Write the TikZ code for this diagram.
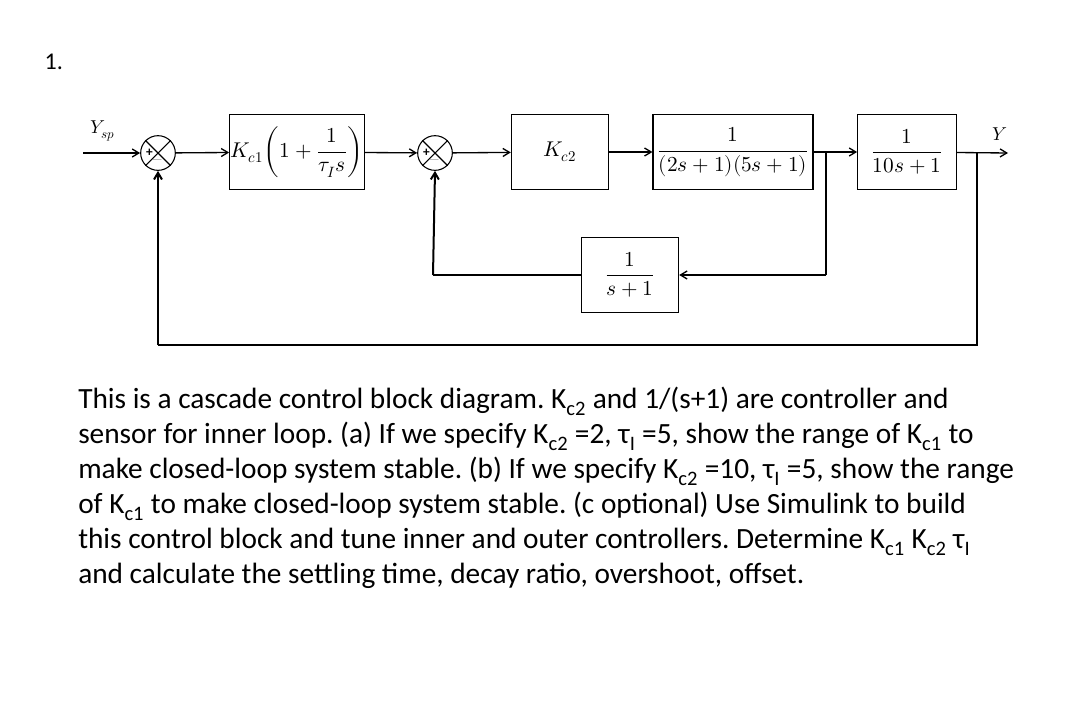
\documentclass[tikz,border=0pt]{standalone}
\usepackage{fontspec}
\setmainfont{Carlito}
\usepackage{unicode-math}
\setmathfont{Latin Modern Math}
\usetikzlibrary{arrows.meta}
\begin{document}
\frenchspacing
\begin{tikzpicture}[x=0.75pt,y=-0.75pt,
  blk/.style={draw,line width=0.8pt,minimum height=56pt,inner sep=0pt,font=\fontsize{16}{18}\selectfont},
  sum/.style={draw,circle,line width=0.8pt,minimum size=26pt,inner sep=0pt},
  sig/.style={line width=1pt,-{Straight Barb[length=5pt,width=6pt]}},
  ln/.style={line width=1.5pt}]
\useasboundingbox (0,0) rectangle (1080,722);
\node[anchor=west,font=\fontsize{18}{20}\selectfont] (num) at (40,62) {1.};
\node[sum] (s1) at (158,153) {};
\node[sum] (s2) at (435,153) {};
\foreach \s in {s1,s2}{
  \draw[line width=0.8pt] (\s.45) -- (\s.225) (\s.135) -- (\s.-45);
  \node[font=\fontsize{10}{10}\selectfont\bfseries] at ([xshift=-6.5pt]\s.center) {+};
  \node[font=\fontsize{10}{10}\selectfont,gray] at ([yshift=-6.5pt]\s.center) {$-$};
}
\node[blk,minimum width=101pt] (c1) at (297,152) {$K_{c1}\!\left(1+\dfrac{1}{\tau_I s}\right)$};
\node[blk,minimum width=73pt] (c2) at (560,152) {$K_{c2}$};
\node[blk,minimum width=120pt] (p1) at (733,152) {$\dfrac{1}{(2s+1)(5s+1)}$};
\node[blk,minimum width=74pt] (p2) at (907,152) {$\dfrac{1}{10s+1}$};
\node[blk,minimum width=73pt] (h) at (630,275) {$\dfrac{1}{s+1}$};
\coordinate (in) at (83,153);
\coordinate (out) at (1008,153);
\coordinate (b1) at (826,153);
\coordinate (b2) at (977,153);
\node[font=\fontsize{14}{14}\selectfont] (ysp) at (103,131) {$Y_{sp}$};
\node[font=\fontsize{14}{14}\selectfont] (yl) at (1000,134) {$Y$};
\draw[sig] (in) -- (s1);
\draw[sig] (s1) -- (c1);
\draw[sig] (c1) -- (s2);
\draw[sig] (s2) -- (c2);
\draw[sig] (c2) -- (p1);
\draw[sig] (p1) -- (p2);
\draw[sig] (p2) -- (out);
\draw[ln] (b1) -- (826,275);
\draw[sig] (826,275) -- (h.east);
\draw[ln] (h.west) -- (433,275);
\draw[sig,line width=1.5pt] (433,275) -- (s2.south);
\draw[ln] (b2) -- (977,345) -- (158,345);
\draw[sig,line width=1.5pt] (158,345) -- (s1.south);
\node[anchor=north west,inner sep=0pt,align=left,font=\fontsize{22}{26.25}\selectfont] (txt) at (78,387) {This is a cascade control block diagram. K\textsubscript{c2} and 1/(s+1) are controller and\\ sensor for inner loop. (a) If we specify K\textsubscript{c2} =2, τ\textsubscript{I} =5, show the range of K\textsubscript{c1} to\\ make closed-loop system stable. (b) If we specify K\textsubscript{c2} =10, τ\textsubscript{I} =5, show the range\\ of K\textsubscript{c1} to make closed-loop system stable. (c optional) Use Simulink to build\\ this control block and tune inner and outer controllers. Determine K\textsubscript{c1} K\textsubscript{c2} τ\textsubscript{I}\\ and calculate the settling time, decay ratio, overshoot, offset.};
\end{tikzpicture}
\end{document}
